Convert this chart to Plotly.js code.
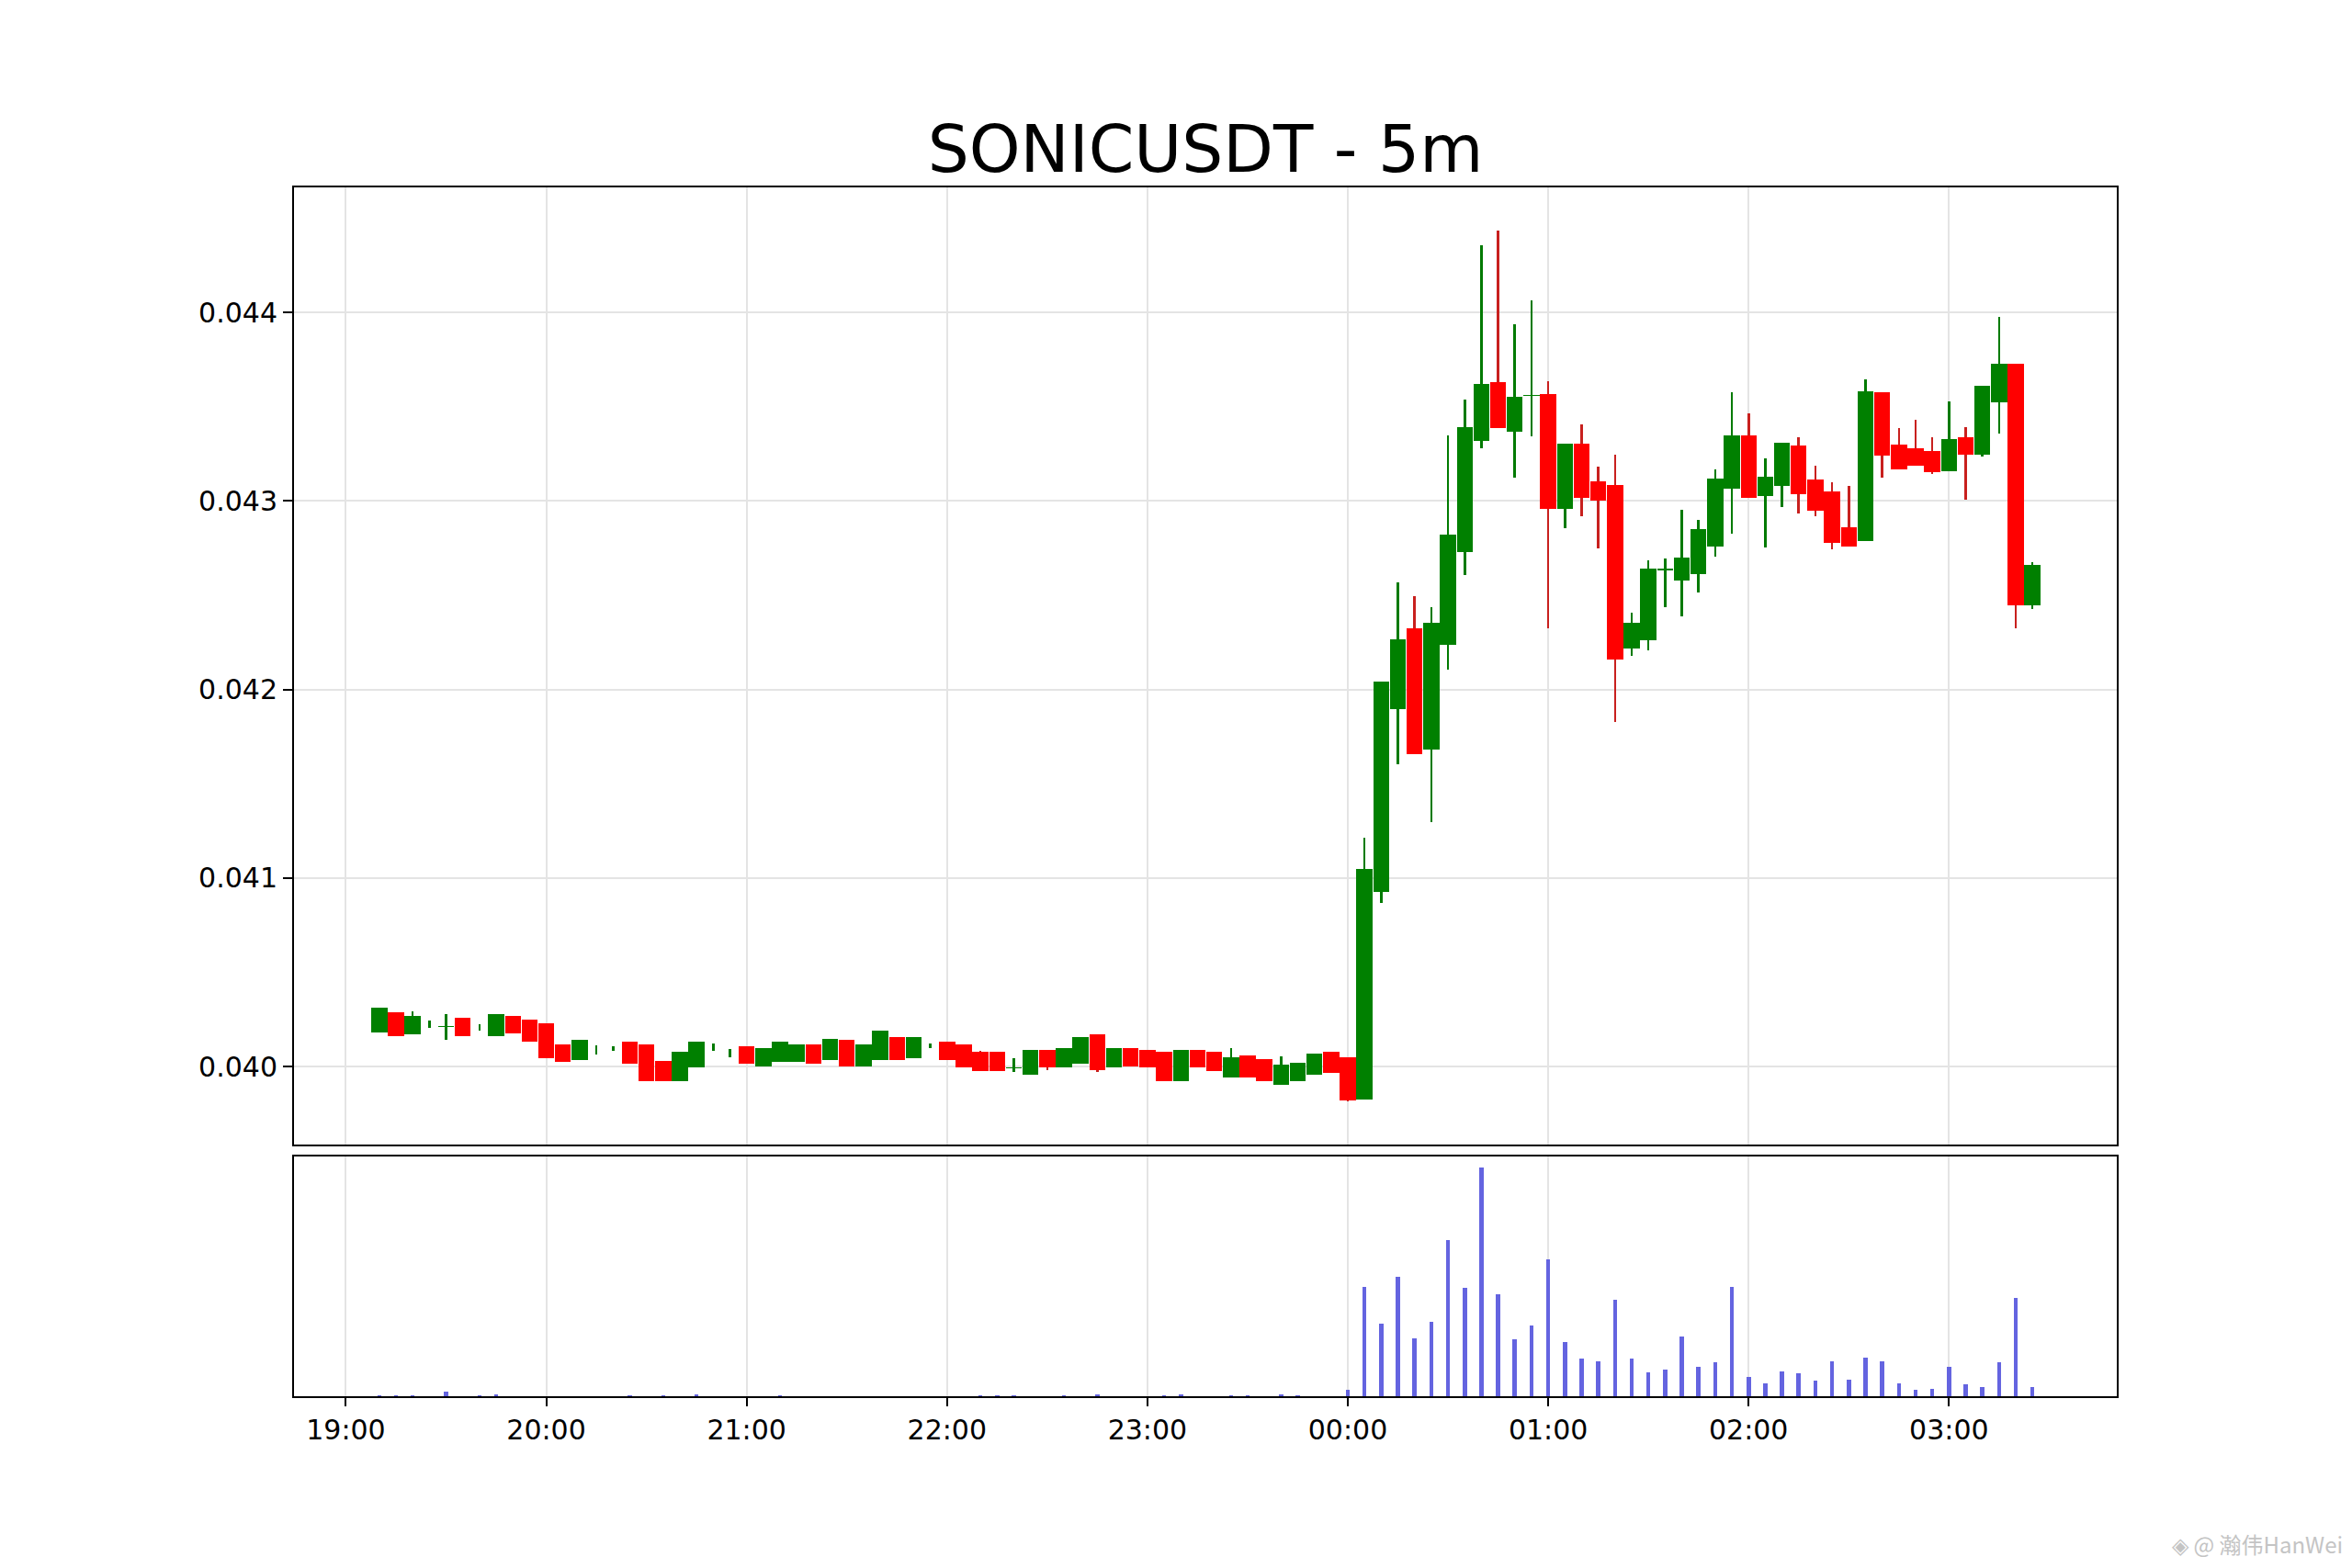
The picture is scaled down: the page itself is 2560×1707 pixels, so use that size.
<!DOCTYPE html>
<html>
<head>
<meta charset="utf-8">
<script src="https://cdn.plot.ly/plotly-3.0.1.min.js"></script>
<style>
  html, body { margin: 0; padding: 0; background: #ffffff; }
  #chart { width: 2560px; height: 1707px; }
</style>
</head>
<body>
<div id="chart"></div>
<script>
// ---- Data (5-minute candles, SONICUSDT) ----
const times = [
  '2025-01-14 19:10','2025-01-14 19:15','2025-01-14 19:20','2025-01-14 19:25','2025-01-14 19:30',
  '2025-01-14 19:35','2025-01-14 19:40','2025-01-14 19:45','2025-01-14 19:50','2025-01-14 19:55',
  '2025-01-14 20:00','2025-01-14 20:05','2025-01-14 20:10','2025-01-14 20:15','2025-01-14 20:20',
  '2025-01-14 20:25','2025-01-14 20:30','2025-01-14 20:35','2025-01-14 20:40','2025-01-14 20:45',
  '2025-01-14 20:50','2025-01-14 20:55','2025-01-14 21:00','2025-01-14 21:05','2025-01-14 21:10',
  '2025-01-14 21:15','2025-01-14 21:20','2025-01-14 21:25','2025-01-14 21:30','2025-01-14 21:35',
  '2025-01-14 21:40','2025-01-14 21:45','2025-01-14 21:50','2025-01-14 21:55','2025-01-14 22:00',
  '2025-01-14 22:05','2025-01-14 22:10','2025-01-14 22:15','2025-01-14 22:20','2025-01-14 22:25',
  '2025-01-14 22:30','2025-01-14 22:35','2025-01-14 22:40','2025-01-14 22:45','2025-01-14 22:50',
  '2025-01-14 22:55','2025-01-14 23:00','2025-01-14 23:05','2025-01-14 23:10','2025-01-14 23:15',
  '2025-01-14 23:20','2025-01-14 23:25','2025-01-14 23:30','2025-01-14 23:35','2025-01-14 23:40',
  '2025-01-14 23:45','2025-01-14 23:50','2025-01-14 23:55','2025-01-15 00:00','2025-01-15 00:05',
  '2025-01-15 00:10','2025-01-15 00:15','2025-01-15 00:20','2025-01-15 00:25','2025-01-15 00:30',
  '2025-01-15 00:35','2025-01-15 00:40','2025-01-15 00:45','2025-01-15 00:50','2025-01-15 00:55',
  '2025-01-15 01:00','2025-01-15 01:05','2025-01-15 01:10','2025-01-15 01:15','2025-01-15 01:20',
  '2025-01-15 01:25','2025-01-15 01:30','2025-01-15 01:35','2025-01-15 01:40','2025-01-15 01:45',
  '2025-01-15 01:50','2025-01-15 01:55','2025-01-15 02:00','2025-01-15 02:05','2025-01-15 02:10',
  '2025-01-15 02:15','2025-01-15 02:20','2025-01-15 02:25','2025-01-15 02:30','2025-01-15 02:35',
  '2025-01-15 02:40','2025-01-15 02:45','2025-01-15 02:50','2025-01-15 02:55','2025-01-15 03:00',
  '2025-01-15 03:05','2025-01-15 03:10','2025-01-15 03:15','2025-01-15 03:20','2025-01-15 03:25'
];

const opens = [
  0.040183,0.040289,0.040174,0.040226,0.040210,0.040260,0.040209,0.040164,0.040269,0.040250,
  0.040231,0.040120,0.040036,0.040088,0.040094,0.040131,0.040120,0.040029,0.039925,0.039994,
  0.040104,0.040075,0.040109,0.040003,0.040026,0.040026,0.040120,0.040036,0.040141,0.040003,
  0.040036,0.040157,0.040047,0.040110,0.040131,0.040120,0.040080,0.040080,0.039990,0.039955,
  0.040089,0.039994,0.040016,0.040170,0.039994,0.040099,0.040089,0.040080,0.039925,0.040089,
  0.040080,0.039945,0.040060,0.040042,0.039906,0.039925,0.039955,0.040080,0.040052,0.039826,
  0.040929,0.041898,0.042323,0.041680,0.042236,0.042727,0.043317,0.043630,0.043366,0.043555,
  0.043565,0.042957,0.043304,0.043102,0.043084,0.042220,0.042261,0.042630,0.042578,0.042612,
  0.042758,0.043065,0.043348,0.043028,0.043078,0.043292,0.043112,0.043053,0.042860,0.042789,
  0.043575,0.043301,0.043280,0.043264,0.043158,0.043339,0.043245,0.043522,0.043730,0.042447
];
const highs = [
  0.040312,0.040289,0.040294,0.040247,0.040279,0.040260,0.040227,0.040279,0.040269,0.040250,
  0.040231,0.040120,0.040143,0.040114,0.040107,0.040131,0.040120,0.040029,0.040080,0.040131,
  0.040123,0.040096,0.040109,0.040099,0.040131,0.040120,0.040120,0.040148,0.040141,0.040120,
  0.040192,0.040157,0.040157,0.040123,0.040131,0.040120,0.040084,0.040080,0.040047,0.040089,
  0.040089,0.040099,0.040157,0.040170,0.040099,0.040099,0.040089,0.040080,0.040089,0.040089,
  0.040080,0.040097,0.040060,0.040042,0.040055,0.040021,0.040070,0.040080,0.040052,0.041214,
  0.042043,0.042568,0.042494,0.042435,0.043348,0.043540,0.044354,0.044435,0.043935,0.044065,
  0.043637,0.043304,0.043407,0.043180,0.043245,0.042410,0.042683,0.042696,0.042953,0.042898,
  0.043168,0.043575,0.043466,0.043227,0.043311,0.043339,0.043189,0.043099,0.043078,0.043646,
  0.043575,0.043388,0.043429,0.043339,0.043528,0.043394,0.043612,0.043978,0.043730,0.042674
];
const lows = [
  0.040183,0.040164,0.040174,0.040205,0.040144,0.040164,0.040192,0.040164,0.040177,0.040135,
  0.040047,0.040024,0.040036,0.040062,0.040084,0.040016,0.039925,0.039925,0.039925,0.039994,
  0.040084,0.040052,0.040016,0.040003,0.040026,0.040026,0.040016,0.040036,0.040003,0.040003,
  0.040036,0.040036,0.040047,0.040099,0.040036,0.039994,0.039976,0.039976,0.039974,0.039955,
  0.039984,0.039994,0.040016,0.039974,0.039994,0.040003,0.039994,0.039925,0.039925,0.039994,
  0.039976,0.039945,0.039945,0.039925,0.039906,0.039925,0.039955,0.039966,0.039815,0.039826,
  0.040866,0.041602,0.041658,0.041298,0.042106,0.042609,0.043280,0.043388,0.043124,0.043342,
  0.042326,0.042854,0.042920,0.042748,0.041829,0.042177,0.042208,0.042438,0.042388,0.042516,
  0.042705,0.042826,0.043016,0.042752,0.042969,0.042935,0.042919,0.042742,0.042758,0.042789,
  0.043124,0.043168,0.043186,0.043143,0.043158,0.043006,0.043236,0.043357,0.042326,0.042425
];
const closes = [
  0.040312,0.040164,0.040269,0.040226,0.040215,0.040164,0.040209,0.040279,0.040177,0.040135,
  0.040047,0.040024,0.040143,0.040088,0.040094,0.040016,0.039925,0.039925,0.040080,0.040131,
  0.040104,0.040075,0.040016,0.040099,0.040131,0.040120,0.040016,0.040148,0.040003,0.040120,
  0.040192,0.040036,0.040157,0.040110,0.040036,0.039994,0.039976,0.039976,0.039995,0.040089,
  0.039994,0.040099,0.040157,0.039981,0.040099,0.040003,0.039994,0.039925,0.040089,0.039994,
  0.039976,0.040052,0.039945,0.039925,0.040011,0.040021,0.040070,0.039966,0.039821,0.041050,
  0.042043,0.042264,0.041658,0.042354,0.042820,0.043394,0.043621,0.043388,0.043550,0.043560,
  0.042957,0.043304,0.043016,0.043000,0.042158,0.042354,0.042640,0.042640,0.042702,0.042851,
  0.043121,0.043348,0.043016,0.043130,0.043311,0.043037,0.042947,0.042776,0.042758,0.043584,
  0.043239,0.043168,0.043186,0.043152,0.043329,0.043245,0.043612,0.043730,0.042447,0.042661
];
// Volume (relative units; the volume axis carries no tick labels)
const volumes = [
  4,4,2,1,16,1,2,6,1,1,
  1,1,1,1,1,4,1,2,1,5,1,1,
  1,1,2,1,1,1,1,1,1,1,1,1,
  1,1,4,2,2,1,1,2,1,6,1,1,
  1,3,7,1,1,4,2,1,6,2,1,1,
  22,355,237,389,187,241,506,352,742,331,184,229,
  444,177,121,113,313,121,79,86,193,97,109,355,
  64,43,81,76,52,112,55,124,112,43,20,25,
  97,40,31,111,319,30
];
const priceTicks = [0.040, 0.041, 0.042, 0.043, 0.044];
const chartTitle = 'SONICUSDT - 5m';

// ---- Derived drawing arrays ----
const isUp = closes.map((c, i) => c >= opens[i]);
const bodyBase = closes.map((c, i) => Math.min(c, opens[i]));
const bodyHeight = closes.map((c, i) => Math.abs(c - opens[i]));
const wickHeight = highs.map((h, i) => h - lows[i]);
const bodyColors = isUp.map(u => u ? '#008000' : '#ff0000');
const wickColors = isUp.map(u => u ? '#007a00' : '#c8201e');

const FIVE_MIN = 5 * 60 * 1000;

const wicks = {
  type: 'bar', x: times, base: lows, y: wickHeight,
  width: FIVE_MIN * 0.14,
  marker: { color: wickColors, line: { width: 0 } },
  xaxis: 'x', yaxis: 'y', hoverinfo: 'skip', showlegend: false
};
const bodies = {
  type: 'bar', x: times, base: bodyBase, y: bodyHeight,
  width: FIVE_MIN * 0.96,
  marker: { color: bodyColors, line: { width: 0 } },
  xaxis: 'x', yaxis: 'y', showlegend: false,
  customdata: opens.map((o, i) => [o, highs[i], lows[i], closes[i]]),
  hovertemplate: 'O %{customdata[0]}<br>H %{customdata[1]}<br>L %{customdata[2]}<br>C %{customdata[3]}<extra></extra>'
};
const volBars = {
  type: 'bar', x: times, y: volumes,
  width: FIVE_MIN * 0.25,
  marker: { color: '#6464e0', line: { width: 0 } },
  xaxis: 'x2', yaxis: 'y2', showlegend: false
};

const FONT = 'DejaVu Sans, Liberation Sans, sans-serif';
const gridColor = '#e4e4e4';
const xRange = ['2025-01-14 18:44:28', '2025-01-15 03:50:15'];

const layout = {
  width: 2560, height: 1707,
  paper_bgcolor: '#ffffff', plot_bgcolor: '#ffffff',
  margin: { l: 320, r: 256, t: 204, b: 187, pad: 0 },
  barmode: 'overlay',
  bargap: 0,
  showlegend: false,
  font: { family: FONT, size: 30, color: '#000000' },
  title: {
    text: chartTitle,
    font: { family: FONT, size: 71, color: '#000000' },
    x: 0.5, xref: 'paper', xanchor: 'center',
    y: 1 - 162 / 1707, yref: 'container', yanchor: 'middle'
  },
  xaxis: {
    type: 'date', range: xRange, domain: [0, 1], anchor: 'y',
    showticklabels: false, ticks: '',
    tick0: '2025-01-14 19:00', dtick: 3600000,
    showgrid: true, gridcolor: gridColor, gridwidth: 2,
    showline: true, linecolor: '#000000', linewidth: 2, mirror: true,
    zeroline: false, fixedrange: true,
    rangeslider: { visible: false }
  },
  yaxis: {
    domain: [(1520 - 1246) / 1316, 1], anchor: 'x',
    range: [0.039587, 0.044663],
    tickmode: 'array', tickvals: priceTicks,
    ticktext: priceTicks.map(v => v.toFixed(3)),
    ticks: 'outside', ticklen: 10, tickwidth: 2, tickcolor: '#000000',
    tickfont: { family: FONT, size: 30, color: '#000000' },
    showgrid: true, gridcolor: gridColor, gridwidth: 2,
    showline: true, linecolor: '#000000', linewidth: 2, mirror: true,
    zeroline: false, fixedrange: true
  },
  xaxis2: {
    type: 'date', range: xRange, domain: [0, 1], anchor: 'y2', matches: 'x',
    tick0: '2025-01-14 19:00', dtick: 3600000, tickformat: '%H:%M',
    ticks: 'outside', ticklen: 9, tickwidth: 2, tickcolor: '#000000',
    tickfont: { family: FONT, size: 30, color: '#000000' },
    showgrid: true, gridcolor: gridColor, gridwidth: 2,
    showline: true, linecolor: '#000000', linewidth: 2, mirror: true,
    zeroline: false, fixedrange: true,
    rangeslider: { visible: false }
  },
  yaxis2: {
    domain: [0, (1520 - 1259) / 1316], anchor: 'x2',
    range: [0, 742 * 1.05],
    showticklabels: false, ticks: '', showgrid: false,
    showline: true, linecolor: '#000000', linewidth: 2, mirror: true,
    zeroline: false, fixedrange: true
  },
  annotations: [
    {
      text: '◈ @ 瀚伟HanWei',
      xref: 'paper', yref: 'paper',
      x: (2552 - 320) / 1984, y: (1520 - 1680) / 1316,
      xanchor: 'right', yanchor: 'middle', showarrow: false,
      font: { family: 'Noto Sans CJK SC, Noto Sans, sans-serif', size: 24, color: '#c4c4c4' }
    }
  ]
};

Plotly.newPlot('chart', [wicks, bodies, volBars], layout, { displayModeBar: false, staticPlot: true });
</script>
</body>
</html>
